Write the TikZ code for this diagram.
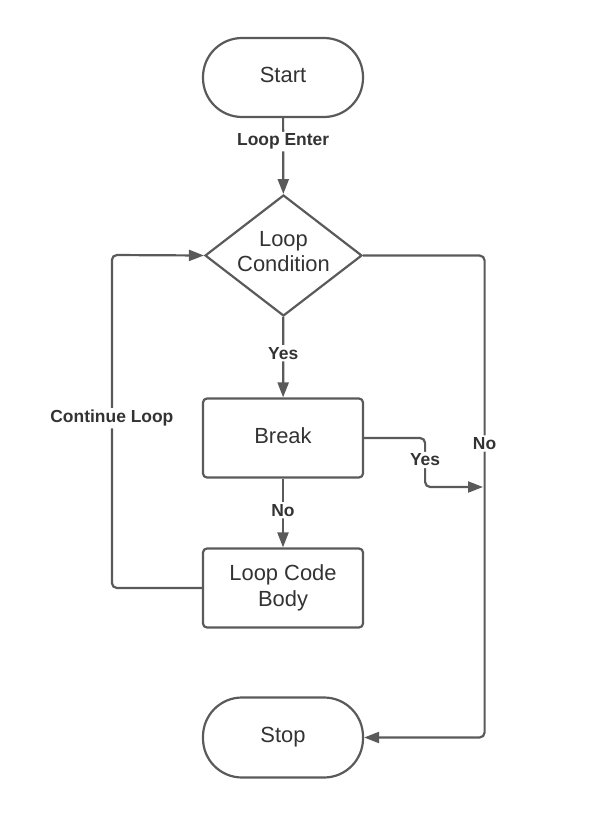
\documentclass[tikz,border=0pt]{standalone}
\usepackage{fontspec}
\setmainfont{Liberation Sans}
\usetikzlibrary{shapes.geometric,arrows.meta}
\definecolor{ln}{HTML}{5A5A5A}
\definecolor{tx}{HTML}{333333}
\begin{document}
\begin{tikzpicture}[x=1bp,y=-1bp,
  every node/.style={text=tx},
  basebox/.style={draw=ln,line width=2.2bp,fill=white,rounded corners=4bp,minimum width=160bp,minimum height=79bp,inner sep=0pt,align=center,font=\fontsize{22}{26.5}\selectfont},
  box/.style={basebox,text height=16bp,text depth=6bp},
  mbox/.style={basebox,text depth=5bp},
  term/.style={box,rounded corners=39bp},
  dec/.style={draw=ln,line width=2.2bp,fill=white,diamond,aspect=1.3,minimum width=157bp,minimum height=121bp,inner sep=0pt,align=center,font=\fontsize{22}{26}\selectfont,text depth=8bp},
  conn/.style={draw=ln,line width=2.2bp,rounded corners=5bp},
  arr/.style={conn,-{Triangle[length=15bp,width=11bp]}},
  lbl/.style={fill=white,inner sep=2bp,font=\fontsize{17.5}{21}\selectfont\bfseries}
]
\useasboundingbox (0,0) rectangle (590,820);
\node[term] (start) at (283,77.5) {Start};
\node[dec] (cond) at (283.5,255.5) {Loop\\Condition};
\node[box] (brk) at (283,438) {Break};
\node[mbox] (body) at (283,588) {Loop Code\\Body};
\node[term,minimum height=80bp] (stop) at (283,737.5) {Stop};
\coordinate (j) at (483,487);

\draw[arr] (start) -- node[lbl,pos=0.31]{Loop Enter} (cond);
\draw[arr] (cond) -- node[lbl,pos=0.45]{Yes} (brk);
\draw[arr] (brk) -- node[lbl,pos=0.46]{No} (body);
\draw[arr] (body.west) -- ++(-90,0) -- node[lbl,pos=0.51]{Continue Loop} ++(0,-333) -- (cond.west);
\draw[arr] (cond.east) -- ++(121.5,0) -- node[lbl,pos=0.39]{No} ++(0,482) -- (stop.east);
\draw[arr] (brk.east) -- ++(61,0) -- node[lbl,pos=0.45]{Yes} ++(0,49) -- (j);
\end{tikzpicture}
\end{document}
